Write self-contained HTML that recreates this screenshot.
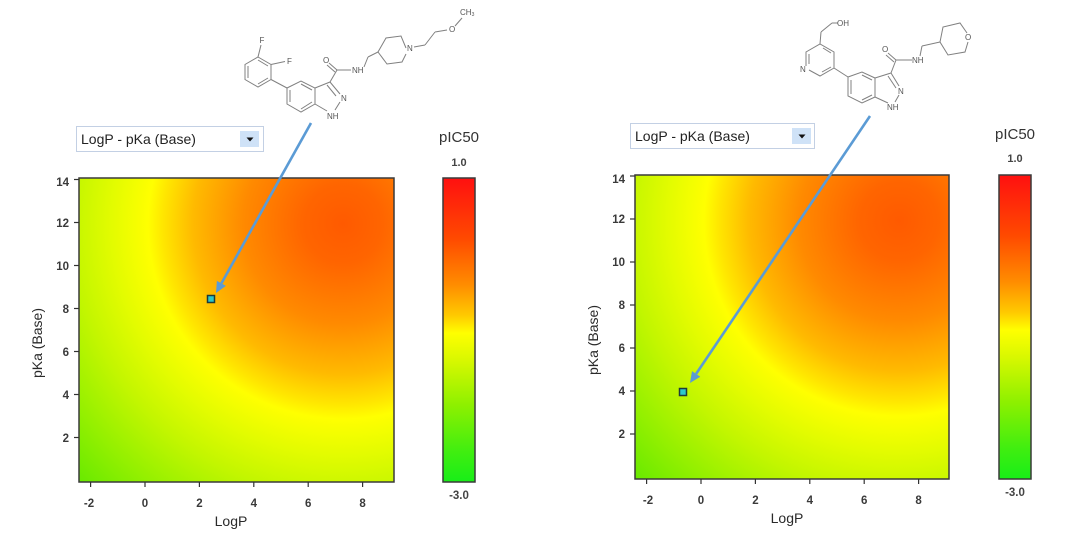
<!DOCTYPE html>
<html>
<head>
<meta charset="utf-8">
<style>
html,body{margin:0;padding:0;background:#fff;}
svg{display:block;}
text{font-family:"Liberation Sans",sans-serif;}
</style>
</head>
<body>
<svg width="1080" height="537" viewBox="0 0 1080 537" xmlns="http://www.w3.org/2000/svg">
<defs>
  <radialGradient id="hmL" gradientUnits="userSpaceOnUse" cx="343" cy="224" r="380">
    <stop offset="0" stop-color="#ff5a00"/>
    <stop offset="0.105" stop-color="#ff6500"/>
    <stop offset="0.263" stop-color="#ff8a00"/>
    <stop offset="0.395" stop-color="#ffba00"/>
    <stop offset="0.474" stop-color="#ffe600"/>
    <stop offset="0.513" stop-color="#ffff00"/>
    <stop offset="0.605" stop-color="#e4fc00"/>
    <stop offset="0.71" stop-color="#c4f600"/>
    <stop offset="0.842" stop-color="#96f000"/>
    <stop offset="1" stop-color="#5ee800"/>
  </radialGradient>
  <radialGradient id="hmR" gradientUnits="userSpaceOnUse" cx="899" cy="221" r="380">
    <stop offset="0" stop-color="#ff5a00"/>
    <stop offset="0.105" stop-color="#ff6500"/>
    <stop offset="0.263" stop-color="#ff8a00"/>
    <stop offset="0.395" stop-color="#ffba00"/>
    <stop offset="0.474" stop-color="#ffe600"/>
    <stop offset="0.513" stop-color="#ffff00"/>
    <stop offset="0.605" stop-color="#e4fc00"/>
    <stop offset="0.71" stop-color="#c4f600"/>
    <stop offset="0.842" stop-color="#96f000"/>
    <stop offset="1" stop-color="#5ee800"/>
  </radialGradient>
  <linearGradient id="cb" x1="0" y1="0" x2="0" y2="1">
    <stop offset="0" stop-color="#ff1010"/>
    <stop offset="0.2" stop-color="#ff4a00"/>
    <stop offset="0.35" stop-color="#ff8c00"/>
    <stop offset="0.45" stop-color="#ffc800"/>
    <stop offset="0.51" stop-color="#ffff00"/>
    <stop offset="0.6" stop-color="#d8f800"/>
    <stop offset="0.75" stop-color="#8cf000"/>
    <stop offset="0.9" stop-color="#40ee10"/>
    <stop offset="1" stop-color="#18ee18"/>
  </linearGradient>
</defs>

<rect x="0" y="0" width="1080" height="537" fill="#fff"/>

<!-- ===================== LEFT MOLECULE ===================== -->
<g stroke="#808080" stroke-width="1" fill="none">
  <polygon points="258,57 271,64.5 271,79.5 258,87 245,79.5 245,64.5"/>
  <line x1="248" y1="66" x2="248" y2="78"/>
  <line x1="258" y1="84" x2="268" y2="78"/>
  <line x1="258" y1="60" x2="268" y2="66"/>
  <line x1="258" y1="57" x2="261" y2="45"/>
  <line x1="271" y1="64.5" x2="285" y2="61.5"/>
  <line x1="271" y1="79.5" x2="287" y2="88"/>
  <polygon points="287,88 301,81 315,88 315,104 301,112 287,104"/>
  <line x1="290" y1="90" x2="290" y2="102"/>
  <line x1="301" y1="84" x2="312" y2="90"/>
  <line x1="301" y1="109" x2="312" y2="102"/>
  <line x1="315" y1="88" x2="330" y2="82"/>
  <line x1="330" y1="82" x2="340" y2="94"/>
  <line x1="327" y1="85" x2="336" y2="96"/>
  <line x1="340" y1="102" x2="335" y2="110"/>
  <line x1="327" y1="111" x2="315" y2="104"/>
  <line x1="330" y1="82" x2="337" y2="70"/>
  <line x1="337" y1="70" x2="329" y2="63"/>
  <line x1="335" y1="72" x2="327" y2="65"/>
  <line x1="337" y1="70" x2="351" y2="70"/>
  <line x1="364" y1="67" x2="368" y2="57"/>
  <line x1="368" y1="57" x2="378" y2="52"/>
  <polyline points="406,48 401,36 386,38 378,52 387,64 402,62 406,54"/>
  <line x1="414" y1="47" x2="425" y2="45"/>
  <line x1="425" y1="45" x2="435" y2="32"/>
  <line x1="435" y1="32" x2="447" y2="30"/>
  <line x1="455" y1="26" x2="462" y2="18"/>
</g>
<g fill="#555" font-size="8">
  <text x="259.5" y="43">F</text>
  <text x="287" y="64">F</text>
  <text x="323" y="63">O</text>
  <text x="352" y="73">NH</text>
  <text x="407" y="51">N</text>
  <text x="341" y="101">N</text>
  <text x="327" y="119">NH</text>
  <text x="449" y="32">O</text>
  <text x="460" y="15">CH<tspan font-size="5" dy="1">3</tspan></text>
</g>

<!-- ===================== RIGHT MOLECULE ===================== -->
<g stroke="#808080" stroke-width="1" fill="none">
  <polyline points="806,66 806,52 820,44 834,52 834,68 820,76 809,70"/>
  <line x1="823" y1="48" x2="831" y2="53"/>
  <line x1="831" y1="67" x2="822" y2="72"/>
  <line x1="809" y1="54" x2="809" y2="64"/>
  <line x1="820" y1="44" x2="821" y2="32"/>
  <line x1="821" y1="32" x2="832" y2="23"/>
  <line x1="832" y1="23" x2="838" y2="23"/>
  <line x1="834" y1="68" x2="848" y2="77"/>
  <polygon points="848,77 862,72 875,78 875,97 862,103 848,96"/>
  <line x1="851" y1="80" x2="851" y2="94"/>
  <line x1="862" y1="75" x2="872" y2="80"/>
  <line x1="862" y1="100" x2="872" y2="95"/>
  <line x1="875" y1="78" x2="891" y2="73"/>
  <line x1="891" y1="73" x2="899" y2="86"/>
  <line x1="888" y1="76" x2="896" y2="88"/>
  <line x1="899" y1="95" x2="895" y2="102"/>
  <line x1="888" y1="103" x2="875" y2="97"/>
  <line x1="891" y1="73" x2="896" y2="60"/>
  <line x1="896" y1="60" x2="888" y2="53"/>
  <line x1="894" y1="62" x2="886" y2="55"/>
  <line x1="896" y1="60" x2="912" y2="60"/>
  <line x1="920" y1="56" x2="922" y2="46"/>
  <line x1="922" y1="46" x2="940" y2="42"/>
  <polyline points="967,33 960,23 943,27 940,42 948,55 965,52 968,42"/>
</g>
<g fill="#555" font-size="8">
  <text x="837" y="26">OH</text>
  <text x="800" y="72">N</text>
  <text x="882" y="52">O</text>
  <text x="912" y="63">NH</text>
  <text x="898" y="94">N</text>
  <text x="887" y="110">NH</text>
  <text x="965" y="40">O</text>
</g>

<!-- ===================== LEFT CHART ===================== -->
<rect x="76.5" y="126.5" width="187" height="25" fill="#fff" stroke="#c3d0e4" stroke-width="1"/>
<text x="81" y="144" font-size="14" fill="#222">LogP - pKa (Base)</text>
<rect x="240" y="131" width="19" height="16" fill="#cfe2f7"/>
<polygon points="246.5,137.5 253.5,137.5 250,141.5" fill="#111"/>

<rect x="79" y="178" width="315" height="304" fill="url(#hmL)"/>
<rect x="79" y="178" width="315" height="304" fill="none" stroke="#3a3a3a" stroke-width="1.5"/>

<g stroke="#333" stroke-width="1.2">
  <line x1="74" y1="179.5" x2="79" y2="179.5"/>
  <line x1="74" y1="222.5" x2="79" y2="222.5"/>
  <line x1="74" y1="265.5" x2="79" y2="265.5"/>
  <line x1="74" y1="308.5" x2="79" y2="308.5"/>
  <line x1="74" y1="351.5" x2="79" y2="351.5"/>
  <line x1="74" y1="394.5" x2="79" y2="394.5"/>
  <line x1="74" y1="437.5" x2="79" y2="437.5"/>
  <line x1="90.6" y1="482" x2="90.6" y2="487"/>
  <line x1="145" y1="482" x2="145" y2="487"/>
  <line x1="199.4" y1="482" x2="199.4" y2="487"/>
  <line x1="253.8" y1="482" x2="253.8" y2="487"/>
  <line x1="308.2" y1="482" x2="308.2" y2="487"/>
  <line x1="362.6" y1="482" x2="362.6" y2="487"/>
</g>
<g font-size="11.5" font-weight="bold" fill="#3a3a3a" text-anchor="end">
  <text x="69" y="186">14</text>
  <text x="69" y="227">12</text>
  <text x="69" y="270">10</text>
  <text x="69" y="313">8</text>
  <text x="69" y="356">6</text>
  <text x="69" y="399">4</text>
  <text x="69" y="442">2</text>
</g>
<g font-size="11.5" font-weight="bold" fill="#3a3a3a" text-anchor="middle">
  <text x="89" y="507">-2</text>
  <text x="145" y="507">0</text>
  <text x="199.4" y="507">2</text>
  <text x="253.8" y="507">4</text>
  <text x="308.2" y="507">6</text>
  <text x="362.6" y="507">8</text>
</g>
<text x="231" y="526" font-size="14" fill="#2a2a2a" text-anchor="middle">LogP</text>
<text x="42" y="343" font-size="14" fill="#2a2a2a" text-anchor="middle" transform="rotate(-90 42 343)">pKa (Base)</text>

<text x="459" y="142" font-size="15" fill="#333" text-anchor="middle">pIC50</text>
<text x="459" y="166" font-size="11" font-weight="bold" fill="#444" text-anchor="middle">1.0</text>
<rect x="443" y="178" width="32" height="304" fill="url(#cb)" stroke="#3a3a3a" stroke-width="1.5"/>
<text x="459" y="499" font-size="11.5" font-weight="bold" fill="#444" text-anchor="middle">-3.0</text>

<line x1="311" y1="123" x2="221.4" y2="283.4" stroke="#5b9bd5" stroke-width="2.6"/>
<polygon points="216,293 225.9,285.9 216.9,280.9" fill="#5b9bd5"/>
<rect x="207.5" y="295.5" width="7" height="7" fill="#2ec8c8" stroke="#1d3b3b" stroke-width="1.5"/>

<!-- ===================== RIGHT CHART ===================== -->
<rect x="630.5" y="123.5" width="184" height="25" fill="#fff" stroke="#c3d0e4" stroke-width="1"/>
<text x="635" y="141" font-size="14" fill="#222">LogP - pKa (Base)</text>
<rect x="792" y="128" width="19" height="16" fill="#cfe2f7"/>
<polygon points="798.5,134.5 805.5,134.5 802,138.5" fill="#111"/>

<rect x="635" y="175" width="314" height="304" fill="url(#hmR)"/>
<rect x="635" y="175" width="314" height="304" fill="none" stroke="#3a3a3a" stroke-width="1.5"/>

<g stroke="#333" stroke-width="1.2">
  <line x1="630" y1="176" x2="635" y2="176"/>
  <line x1="630" y1="219" x2="635" y2="219"/>
  <line x1="630" y1="262" x2="635" y2="262"/>
  <line x1="630" y1="305" x2="635" y2="305"/>
  <line x1="630" y1="348" x2="635" y2="348"/>
  <line x1="630" y1="391" x2="635" y2="391"/>
  <line x1="630" y1="434" x2="635" y2="434"/>
  <line x1="646.6" y1="479" x2="646.6" y2="484"/>
  <line x1="701" y1="479" x2="701" y2="484"/>
  <line x1="755.4" y1="479" x2="755.4" y2="484"/>
  <line x1="809.8" y1="479" x2="809.8" y2="484"/>
  <line x1="864.2" y1="479" x2="864.2" y2="484"/>
  <line x1="918.6" y1="479" x2="918.6" y2="484"/>
</g>
<g font-size="11.5" font-weight="bold" fill="#3a3a3a" text-anchor="end">
  <text x="625" y="183">14</text>
  <text x="625" y="223">12</text>
  <text x="625" y="266">10</text>
  <text x="625" y="309">8</text>
  <text x="625" y="352">6</text>
  <text x="625" y="395">4</text>
  <text x="625" y="438">2</text>
</g>
<g font-size="11.5" font-weight="bold" fill="#3a3a3a" text-anchor="middle">
  <text x="648" y="504">-2</text>
  <text x="701" y="504">0</text>
  <text x="755.4" y="504">2</text>
  <text x="809.8" y="504">4</text>
  <text x="864.2" y="504">6</text>
  <text x="918.6" y="504">8</text>
</g>
<text x="787" y="523" font-size="14" fill="#2a2a2a" text-anchor="middle">LogP</text>
<text x="598" y="340" font-size="14" fill="#2a2a2a" text-anchor="middle" transform="rotate(-90 598 340)">pKa (Base)</text>

<text x="1015" y="139" font-size="15" fill="#333" text-anchor="middle">pIC50</text>
<text x="1015" y="162" font-size="11" font-weight="bold" fill="#444" text-anchor="middle">1.0</text>
<rect x="999" y="175" width="32" height="304" fill="url(#cb)" stroke="#3a3a3a" stroke-width="1.5"/>
<text x="1015" y="496" font-size="11.5" font-weight="bold" fill="#444" text-anchor="middle">-3.0</text>

<line x1="870" y1="116" x2="696.1" y2="373.9" stroke="#5b9bd5" stroke-width="2.6"/>
<polygon points="690,383 700.3,376.7 692,371.1" fill="#5b9bd5"/>
<rect x="679.5" y="388.5" width="7" height="7" fill="#2ec8c8" stroke="#1d3b3b" stroke-width="1.5"/>
</svg>
</body>
</html>
